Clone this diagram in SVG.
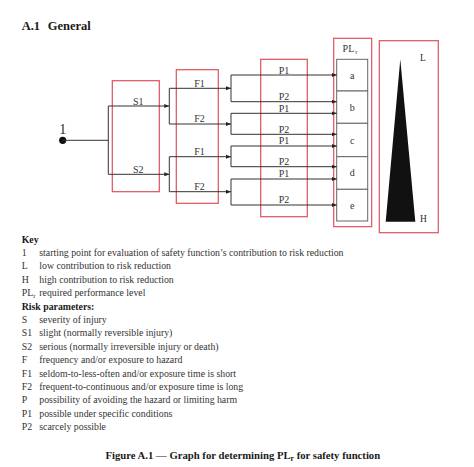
<svg xmlns="http://www.w3.org/2000/svg" width="474" height="467" viewBox="0 0 474 467">
<defs>
<marker id="arr" viewBox="0 0 6 6" refX="6" refY="3" markerWidth="5" markerHeight="5" markerUnits="userSpaceOnUse" orient="auto">
<path d="M0,0.6 L6,3 L0,5.4 Z" fill="#222"/>
</marker>
<style>
.t{font-family:"Liberation Serif",serif;fill:#2a2a2a}
.lbl{font-family:"Liberation Serif",serif;font-size:10px;fill:#333;text-anchor:middle}
.key{font-family:"Liberation Serif",serif;font-size:9.8px;fill:#333}
.b{font-weight:bold;fill:#1a1a1a}
.red{fill:none;stroke:#e0505a;stroke-width:1.2}
.ln{fill:none;stroke:#333;stroke-width:1}
.cell{fill:#fff;stroke:#666;stroke-width:1}
</style>
</defs>
<rect width="474" height="467" fill="#fff"/>
<text class="t b" x="21.7" y="30" font-size="12.5">A.1</text>
<text class="t b" x="47.7" y="30" font-size="12.5">General</text>

<g id="start">
<circle cx="62.7" cy="140.3" r="3.6" fill="#111"/>
<text class="t" x="62.7" y="133.5" font-size="14" text-anchor="middle">1</text>
</g>
<g id="S">
<rect class="red" x="112.3" y="80.7" width="47" height="111"/>
<text class="lbl" x="138.3" y="104.5">S1</text>
<text class="lbl" x="138.3" y="172.5">S2</text>
</g>
<g id="F">
<rect class="red" x="176.3" y="69.7" width="42" height="133.6"/>
<text class="lbl" x="199.5" y="86.5">F1</text>
<text class="lbl" x="199.5" y="122.3">F2</text>
<text class="lbl" x="199.5" y="155">F1</text>
<text class="lbl" x="199.5" y="190">F2</text>
</g>
<g id="P">
<rect class="red" x="260.7" y="59.3" width="46.6" height="157.4"/>
<text class="lbl" x="284" y="73.5">P1</text>
<text class="lbl" x="284" y="100">P2</text>
<text class="lbl" x="284" y="111.8">P1</text>
<text class="lbl" x="284" y="132.6">P2</text>
<text class="lbl" x="284" y="144.3">P1</text>
<text class="lbl" x="284" y="165">P2</text>
<text class="lbl" x="284" y="177.3">P1</text>
<text class="lbl" x="284" y="203.3">P2</text>
</g>
<g id="PLr">
<rect class="red" x="333.7" y="38.3" width="38" height="188.4"/>
<text class="lbl" x="350" y="52" font-size="9.5">PL<tspan dx="1" dy="2" font-size="6.5">r</tspan></text>
<rect class="cell" x="336.7" y="59.3" width="31" height="31.7"/>
<rect class="cell" x="336.7" y="91" width="31" height="32.3"/>
<rect class="cell" x="336.7" y="123.3" width="31" height="33.4"/>
<rect class="cell" x="336.7" y="156.7" width="31" height="32.6"/>
<rect class="cell" x="336.7" y="189.3" width="31" height="31.7"/>
<text class="lbl" x="352.2" y="78.5">a</text>
<text class="lbl" x="352.2" y="111">b</text>
<text class="lbl" x="352.2" y="143.5">c</text>
<text class="lbl" x="352.2" y="176">d</text>
<text class="lbl" x="352.2" y="208.5">e</text>
</g>
<g id="scale">
<rect class="red" x="379.3" y="40.7" width="59" height="192"/>
<polygon points="400.3,59.3 415.3,221.7 385.7,221.7" fill="#111"/>
<text class="t" x="420" y="61" font-size="9.5">L</text>
<text class="t" x="420" y="222" font-size="9.5">H</text>
</g>

<g id="connectors">
<path class="ln" d="M62.7,140.3 H108.3 M108.3,106 V174.3"/>
<path class="ln" marker-end="url(#arr)" d="M108.3,106 H169.3"/>
<path class="ln" marker-end="url(#arr)" d="M108.3,174.3 H169.3"/>
<path class="ln" d="M169.3,88.3 V124 M169.3,156.7 V191.7"/>
<path class="ln" marker-end="url(#arr)" d="M169.3,88.3 H231"/>
<path class="ln" marker-end="url(#arr)" d="M169.3,124 H231"/>
<path class="ln" marker-end="url(#arr)" d="M169.3,156.7 H231"/>
<path class="ln" marker-end="url(#arr)" d="M169.3,191.7 H231"/>
<path class="ln" d="M231,75 V101.7 M231,113.3 V134.3 M231,146 V166.7 M231,179 V205"/>
<path class="ln" marker-end="url(#arr)" d="M231,75 H336.7"/>
<path class="ln" marker-end="url(#arr)" d="M231,101.7 H336.7"/>
<path class="ln" marker-end="url(#arr)" d="M231,113.3 H336.7"/>
<path class="ln" marker-end="url(#arr)" d="M231,134.3 H336.7"/>
<path class="ln" marker-end="url(#arr)" d="M231,146 H336.7"/>
<path class="ln" marker-end="url(#arr)" d="M231,166.7 H336.7"/>
<path class="ln" marker-end="url(#arr)" d="M231,179 H336.7"/>
<path class="ln" marker-end="url(#arr)" d="M231,205 H336.7"/>
</g>

<g id="key">
<text class="key b" x="21.7" y="242.5">Key</text>
<text class="key" x="21.7" y="256">1</text><text class="key" x="39.3" y="256">starting point for evaluation of safety function’s contribution to risk reduction</text>
<text class="key" x="21.7" y="269.4">L</text><text class="key" x="39.3" y="269.4">low contribution to risk reduction</text>
<text class="key" x="21.7" y="282.8">H</text><text class="key" x="39.3" y="282.8">high contribution to risk reduction</text>
<text class="key" x="21.7" y="296.2">PL<tspan dy="2" font-size="7">r</tspan></text><text class="key" x="39.3" y="296.2">required performance level</text>
<text class="key b" x="21.7" y="309.6">Risk parameters:</text>
<text class="key" x="21.7" y="323">S</text><text class="key" x="39.3" y="323">severity of injury</text>
<text class="key" x="21.7" y="336.4">S1</text><text class="key" x="39.3" y="336.4">slight (normally reversible injury)</text>
<text class="key" x="21.7" y="349.8">S2</text><text class="key" x="39.3" y="349.8">serious (normally irreversible injury or death)</text>
<text class="key" x="21.7" y="363.2">F</text><text class="key" x="39.3" y="363.2">frequency and/or exposure to hazard</text>
<text class="key" x="21.7" y="376.6">F1</text><text class="key" x="39.3" y="376.6">seldom-to-less-often and/or exposure time is short</text>
<text class="key" x="21.7" y="390">F2</text><text class="key" x="39.3" y="390">frequent-to-continuous and/or exposure time is long</text>
<text class="key" x="21.7" y="403.4">P</text><text class="key" x="39.3" y="403.4">possibility of avoiding the hazard or limiting harm</text>
<text class="key" x="21.7" y="416.8">P1</text><text class="key" x="39.3" y="416.8">possible under specific conditions</text>
<text class="key" x="21.7" y="430.2">P2</text><text class="key" x="39.3" y="430.2">scarcely possible</text>
</g>
<text class="t b" x="242.8" y="459" font-size="10.7" text-anchor="middle">Figure A.1 — Graph for determining PL<tspan dy="2" font-size="7.5">r</tspan><tspan dy="-2"> for safety function</tspan></text>
</svg>
